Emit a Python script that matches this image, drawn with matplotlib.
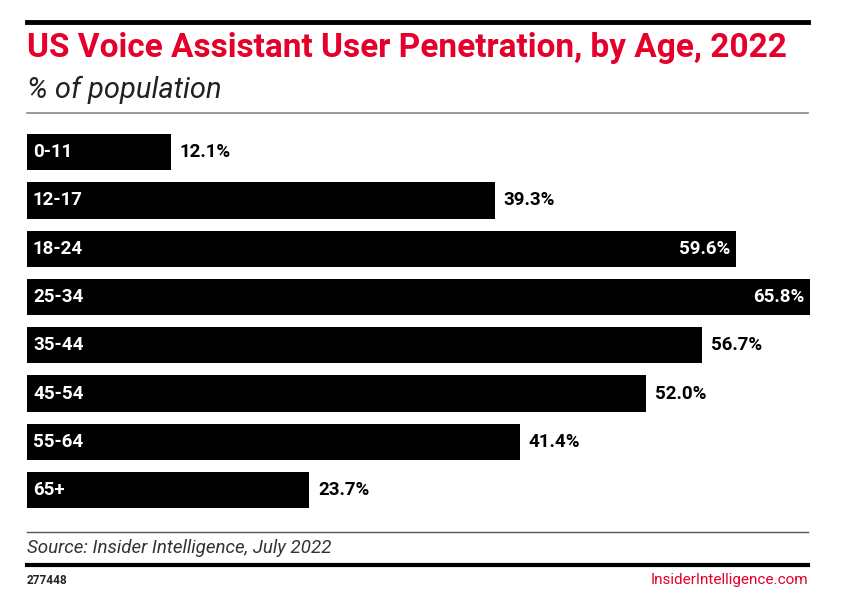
import matplotlib.pyplot as plt
from matplotlib.lines import Line2D

ages = ["0-11", "12-17", "18-24", "25-34", "35-44", "45-54", "55-64", "65+"]
penetration = [12.1, 39.3, 59.6, 65.8, 56.7, 52.0, 41.4, 23.7]

RED = "#e4002b"
plt.rcParams["font.family"] = ["Roboto", "DejaVu Sans"]

fig = plt.figure(figsize=(8.53, 6.10), dpi=100)
ax = fig.add_axes([0.0317, 0.157, 0.918, 0.633])

pos = list(range(len(ages)))
ax.barh(pos, penetration, height=0.75, color="black")
ax.set_xlim(0, max(penetration))
ax.set_ylim(len(ages) - 0.5, -0.5)
ax.axis("off")

for i, (lab, v) in enumerate(zip(ages, penetration)):
    ax.text(0.5, i, lab, color="white", fontsize=13.5, fontweight="bold",
            va="center", ha="left")
    if v > 58:
        ax.text(v - 0.5, i, f"{v:.1f}%", color="white", fontsize=13.5,
                fontweight="bold", va="center", ha="right")
    else:
        ax.text(v + 0.75, i, f"{v:.1f}%", color="black", fontsize=13.5,
                fontweight="bold", va="center", ha="left")

def hline(y, lw, color):
    fig.add_artist(Line2D([27 / 853, 808 / 853], [1 - y / 610] * 2,
                          lw=lw, color=color, transform=fig.transFigure))

hline(22, 3.5, "black")
hline(113, 1.2, "#888888")
hline(532, 1.0, "#555555")
hline(565, 3.0, "black")

fig.text(27 / 853, 1 - 48 / 610, "US Voice Assistant User Penetration, by Age, 2022",
         color=RED, fontsize=24, fontweight="bold", va="center", ha="left")
fig.text(27 / 853, 1 - 90 / 610, "% of population", color="#222222",
         fontsize=21, style="italic", va="center", ha="left")
fig.text(27 / 853, 1 - 548 / 610, "Source: Insider Intelligence, July 2022",
         color="#333333", fontsize=13.5, style="italic", va="center", ha="left")
fig.text(27 / 853, 1 - 580 / 610, "277448", color="#222222", fontsize=8.5,
         fontweight="bold", va="center", ha="left")
fig.text(808 / 853, 1 - 580 / 610, "InsiderIntelligence.com", color=RED,
         fontsize=11, va="center", ha="right")

fig.savefig("out.png", dpi=100)
